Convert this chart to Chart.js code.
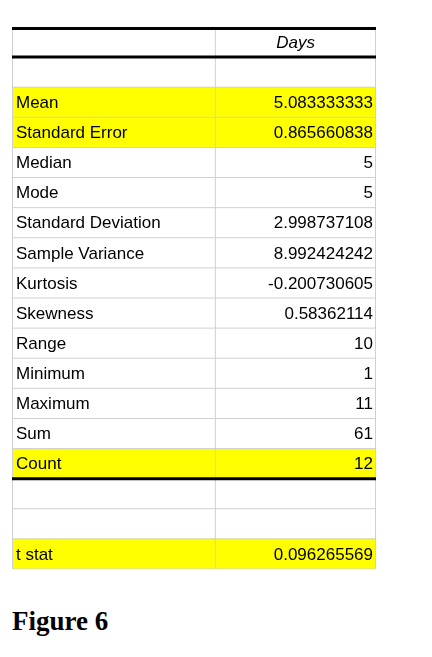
<!DOCTYPE html>
<html lang="en">
<head>
  <meta charset="UTF-8">
  <title>Figure 6</title>
  <script src="https://cdn.jsdelivr.net/npm/chart.js"></script>
  <style>
    body { margin: 0; background: white; width: 432px; height: 657px; position: relative; font-family: 'Liberation Sans', Arial, sans-serif; }
    #wrap { position: absolute; left: 12px; top: 27px; width: 364px; height: 542px; }
    #fig { position: absolute; left: 12px; top: 606px; font-family: 'Liberation Serif', 'Times New Roman', serif; font-weight: bold; font-size: 27px; margin: 0; }
  </style>
</head>
<body>
  <div id="wrap"><canvas id="tbl"></canvas></div>
  <p id="fig">Figure 6</p>

  <script>
    const rowLabels = ['', '', 'Mean', 'Standard Error', 'Median', 'Mode', 'Standard Deviation', 'Sample Variance',
      'Kurtosis', 'Skewness', 'Range', 'Minimum', 'Maximum', 'Sum', 'Count', '', '', 't stat'];
    const rowValues = ['Days', '', '5.083333333', '0.865660838', '5', '5', '2.998737108', '8.992424242',
      '-0.200730605', '0.58362114', '10', '1', '11', '61', '12', '', '', '0.096265569'];
    const highlighted = ['Mean', 'Standard Error', 'Count', 't stat'];

    const cats = rowLabels.map((l, i) => 'r' + i);
    const xMax = 1.79;
    const hiData = rowLabels.map(l => highlighted.includes(l) ? [0, xMax] : null);

    const tablePlugin = {
      id: 'tableText',
      afterDatasetsDraw(chart) {
        const ctx = chart.ctx, x = chart.scales.x, y = chart.scales.y;
        const left = x.getPixelForValue(0), right = x.getPixelForValue(xMax), mid = x.getPixelForValue(1);
        const half = (y.getPixelForValue(1) - y.getPixelForValue(0)) / 2;
        const top = y.getPixelForValue(0) - half, bottom = y.getPixelForValue(cats.length - 1) + half;
        ctx.save();
        // row lines
        ctx.strokeStyle = '#d0d0d0'; ctx.lineWidth = 1;
        cats.forEach((c, i) => {
          const yy = y.getPixelForValue(i) + half;
          ctx.beginPath(); ctx.moveTo(left, yy); ctx.lineTo(right, yy); ctx.stroke();
        });
        ctx.beginPath();
        ctx.moveTo(left + 0.5, top); ctx.lineTo(left + 0.5, bottom);
        ctx.moveTo(mid, top); ctx.lineTo(mid, bottom);
        ctx.moveTo(right - 0.5, top); ctx.lineTo(right - 0.5, bottom);
        ctx.stroke();
        // thick rules
        ctx.strokeStyle = '#000'; ctx.lineWidth = 3;
        [top + 1.5, y.getPixelForValue(0) + half, y.getPixelForValue(14) + half].forEach(yy => {
          ctx.beginPath(); ctx.moveTo(left, yy); ctx.lineTo(right, yy); ctx.stroke();
        });
        // text
        ctx.fillStyle = '#000'; ctx.textBaseline = 'middle';
        cats.forEach((c, i) => {
          const yy = y.getPixelForValue(i) + 1;
          if (i === 0) {
            ctx.font = 'italic 17px "Liberation Sans", Arial, sans-serif';
            ctx.textAlign = 'center';
            ctx.fillText(rowValues[i], (mid + right) / 2, yy);
            return;
          }
          ctx.font = '17px "Liberation Sans", Arial, sans-serif';
          ctx.textAlign = 'left'; ctx.fillText(rowLabels[i], left + 4, yy);
          ctx.textAlign = 'right'; ctx.fillText(rowValues[i], right - 3, yy);
        });
        ctx.restore();
      }
    };

    new Chart(document.getElementById('tbl'), {
      type: 'bar',
      data: {
        labels: cats,
        datasets: [{ data: hiData, backgroundColor: '#ffff00', barPercentage: 1, categoryPercentage: 1, borderWidth: 0 }]
      },
      options: {
        indexAxis: 'y',
        responsive: true,
        maintainAspectRatio: false,
        animation: false,
        layout: { padding: 0 },
        plugins: { legend: { display: false }, tooltip: { enabled: false } },
        scales: {
          x: { display: false, min: 0, max: xMax },
          y: { display: false }
        }
      },
      plugins: [tablePlugin]
    });
  </script>
</body>
</html>
